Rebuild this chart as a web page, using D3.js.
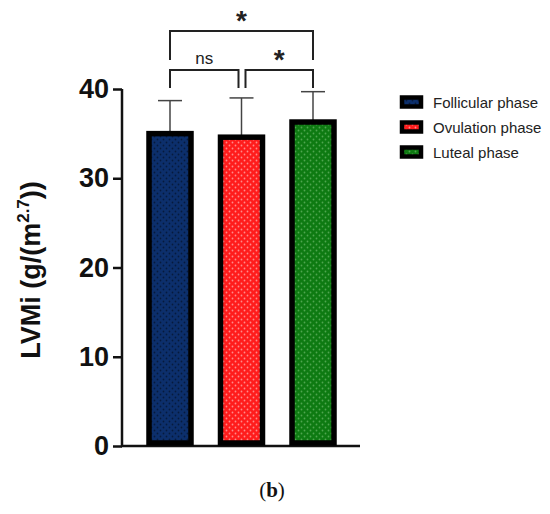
<!DOCTYPE html>
<html lang="en">
<head>
<meta charset="UTF-8">
<title>LVMi</title>
<style>
  body { margin: 0; background: #fff; }
  .axis text { font-family: "Liberation Sans", Arial, sans-serif; font-weight: bold; font-size: 27px; fill: #111; }
  .axis path, .axis line { stroke: #111; stroke-width: 2.5px; }
</style>
</head>
<body>
<svg width="550" height="514"></svg>
<script src="https://d3js.org/d3.v7.min.js"></script>
<script>
var categories = ["Follicular phase", "Ovulation phase", "Luteal phase"];
var means = [35.0, 34.6, 36.3];
var sds = [3.7, 4.4, 3.4];
var colors = ["#0c2f6c", "#ff1c1c", "#0e7a12"];
var dotColors = ["#061a3d", "#ff8a8a", "#4fa64f"];
var yTicks = [0, 10, 20, 30, 40];
// comparisons: [from, to, label, level]
var comparisons = [
  [0, 1, "ns", 0],
  [1, 2, "*", 0],
  [0, 2, "*", 1]
];

var svg = d3.select("svg");
var y = d3.scaleLinear().domain([0, 40]).range([446, 89]);
var x = d3.scalePoint().domain(categories).range([170, 313]);
var barW = 42;

// dotted fill patterns
var defs = svg.append("defs");
categories.forEach(function (c, i) {
  var p = defs.append("pattern")
    .attr("id", "pat" + i)
    .attr("width", 6).attr("height", 6)
    .attr("patternUnits", "userSpaceOnUse");
  p.append("rect").attr("width", 6).attr("height", 6).attr("fill", colors[i]);
  p.append("circle").attr("cx", 1.5).attr("cy", 1.5).attr("r", 0.9).attr("fill", dotColors[i]);
  p.append("circle").attr("cx", 4.5).attr("cy", 4.5).attr("r", 0.9).attr("fill", dotColors[i]);
});

// y axis
svg.append("g")
  .attr("class", "axis")
  .attr("transform", "translate(122,0)")
  .call(d3.axisLeft(y).tickValues(yTicks).tickSize(9).tickSizeOuter(0).tickPadding(4))
  .call(function (g) { g.select(".domain").attr("d", "M0," + (y(0) + 1) + "V" + y(40)); });

// x axis line
svg.append("line")
  .attr("x1", 121).attr("x2", 360)
  .attr("y1", y(0)).attr("y2", y(0))
  .attr("stroke", "#111").attr("stroke-width", 2.5);

// error bars
var eb = svg.append("g").attr("stroke", "#444").attr("stroke-width", 1.5);
categories.forEach(function (c, i) {
  eb.append("line").attr("x1", x(c)).attr("x2", x(c)).attr("y1", y(means[i])).attr("y2", y(means[i] + sds[i]));
  eb.append("line").attr("x1", x(c) - 12).attr("x2", x(c) + 12).attr("y1", y(means[i] + sds[i])).attr("y2", y(means[i] + sds[i]));
});

// bars
svg.selectAll(".bar")
  .data(categories)
  .enter().append("rect")
  .attr("class", "bar")
  .attr("x", function (d) { return x(d) - barW / 2; })
  .attr("y", function (d, i) { return y(means[i]); })
  .attr("width", barW)
  .attr("height", function (d, i) { return y(0) - y(means[i]) - 3; })
  .attr("fill", function (d, i) { return "url(#pat" + i + ")"; })
  .attr("stroke", "#000")
  .attr("stroke-width", 5.5);

// significance brackets
var br = svg.append("g");
comparisons.forEach(function (cmp) {
  var a = x(categories[cmp[0]]), b = x(categories[cmp[1]]);
  if (cmp[3] === 0) {
    if (cmp[0] === 0) b -= 3; else a += 4;
  }
  var top = cmp[3] === 1 ? 31 : 70;
  var leg = cmp[3] === 1 ? 29 : 18;
  br.append("path")
    .attr("d", "M" + a + "," + (top + leg) + "V" + top + "H" + b + "V" + (top + leg))
    .attr("fill", "none").attr("stroke", "#222").attr("stroke-width", 2);
  var isStar = cmp[2] === "*";
  br.append("text")
    .attr("x", (a + b) / 2)
    .attr("y", isStar ? top - 1 : top - 6)
    .attr("text-anchor", "middle")
    .attr("font-family", "Liberation Sans, Arial, sans-serif")
    .attr("font-weight", isStar ? "bold" : "normal")
    .attr("font-size", isStar ? 28 : 17)
    .attr("fill", "#222")
    .text(cmp[2]);
});

// y label
var yl = svg.append("text")
  .attr("transform", "translate(40,270) rotate(-90)")
  .attr("text-anchor", "middle")
  .attr("font-family", "Liberation Sans, Arial, sans-serif")
  .attr("font-weight", "bold")
  .attr("font-size", 27)
  .attr("fill", "#111");
yl.append("tspan").text("LVMi (g/(m");
yl.append("tspan").attr("font-size", 17).attr("dy", -11).text("2.7");
yl.append("tspan").attr("dy", 11).text("))");

// legend
var lg = svg.append("g");
categories.forEach(function (c, i) {
  var ly = 102 + i * 25;
  lg.append("rect")
    .attr("x", 402).attr("y", ly - 4.5)
    .attr("width", 19).attr("height", 9)
    .attr("fill", "url(#pat" + i + ")")
    .attr("stroke", "#000").attr("stroke-width", 4.5);
  lg.append("text")
    .attr("x", 433).attr("y", ly + 5.5)
    .attr("font-family", "Liberation Sans, Arial, sans-serif")
    .attr("font-size", 15)
    .attr("fill", "#222")
    .text(c);
});

// panel label
svg.append("text")
  .attr("x", 272).attr("y", 497)
  .attr("text-anchor", "middle")
  .attr("font-family", "Liberation Serif, 'Times New Roman', serif")
  .attr("font-size", 21)
  .attr("fill", "#111")
  .html("(<tspan font-weight='bold'>b</tspan>)");
</script>
</body>
</html>
